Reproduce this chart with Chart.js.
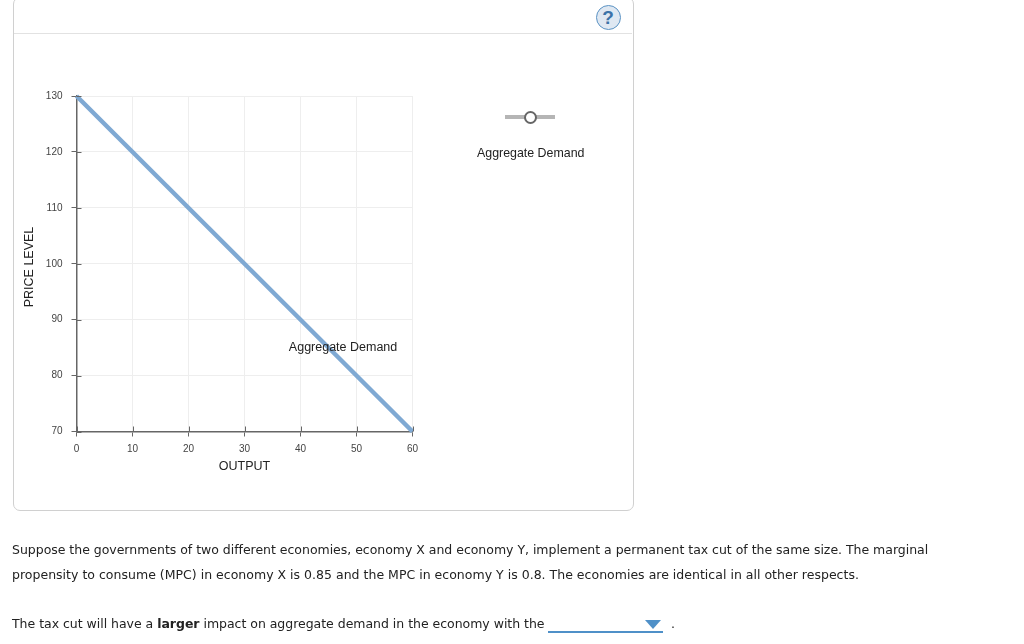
<!DOCTYPE html>
<html><head><meta charset="utf-8">
<script src="https://cdn.jsdelivr.net/npm/chart.js@4"></script>
<style>
html,body{margin:0;padding:0;background:#fff;width:1024px;height:644px;overflow:hidden}
#wrap{position:relative;width:1024px;height:644px}
canvas{position:absolute;left:0;top:0}
.abs{position:absolute;white-space:nowrap}
#panel{left:12.5px;top:-3px;width:619.5px;height:512px;border:1.5px solid #d0d0d0;border-radius:7px}
#hdr{left:14px;top:33px;width:618px;height:1px;background:#e2e2e2}
#help{left:595.5px;top:5px;width:23px;height:23px;border:1.5px solid #5b93c4;border-radius:50%;background:#dfe8f2;color:#3c73a8;font:bold 19px "Liberation Sans";text-align:center;line-height:23px}
.t{font:12.5px "DejaVu Sans";color:#222;left:12px}
#lgl{left:505px;top:114.5px;width:50px;height:4px;background:#b5b5b5}
#lgc{left:524px;top:110.5px;width:9px;height:9px;border:2px solid #666;border-radius:50%;background:#fff}
#lgt{left:477px;top:145.5px;font:12.4px "Liberation Sans";color:#222}
#dd{left:548px;top:631px;width:115px;height:2px;background:#4f90c8}
#ar{left:645px;top:620px;width:0;height:0;border-left:8px solid transparent;border-right:8px solid transparent;border-top:9px solid #4f90c8}
</style></head><body>
<div id="wrap">
<div class="abs" id="panel"></div>
<div class="abs" id="hdr"></div>
<div class="abs" id="help">?</div>
<canvas id="c" width="1024" height="644"></canvas>
<div class="abs" id="lgl"></div><div class="abs" id="lgc"></div>
<div class="abs" id="lgt">Aggregate Demand</div>
<div class="abs t" style="top:542px;letter-spacing:-0.022px">Suppose the governments of two different economies, economy X and economy Y, implement a permanent tax cut of the same size. The marginal</div>
<div class="abs t" style="top:567px;letter-spacing:0.015px">propensity to consume (MPC) in economy X is 0.85 and the MPC in economy Y is 0.8. The economies are identical in all other respects.</div>
<div class="abs t" style="top:616px;letter-spacing:-0.024px">The tax cut will have a <b>larger</b> impact on aggregate demand in the economy with the</div>
<div class="abs" id="dd"></div><div class="abs" id="ar"></div>
<div class="abs t" style="top:616px;left:671px">.</div>
</div>
<script>
const output = [0, 60];
const priceLevel = [130, 70];
const seriesName = 'Aggregate Demand';
const xTitle = 'OUTPUT';
const yTitle = 'PRICE LEVEL';
const labelAt = {x: 47.6, y: 85};

const innerTicks = {
  id: 'innerTicks',
  afterDatasetsDraw(chart) {
    const {ctx, scales: {x, y}} = chart;
    ctx.save();
    ctx.strokeStyle = '#666';
    ctx.lineWidth = 1;
    ctx.beginPath();
    x.ticks.forEach(t => { const p = Math.round(x.getPixelForValue(t.value)) + .5;
      ctx.moveTo(p, y.bottom - 5); ctx.lineTo(p, y.bottom); });
    y.ticks.forEach(t => { const p = Math.round(y.getPixelForValue(t.value)) + .5;
      ctx.moveTo(x.left, p); ctx.lineTo(x.left + 5, p); });
    ctx.stroke();
    ctx.fillStyle = '#222';
    ctx.font = '12.5px "Liberation Sans"';
    ctx.textAlign = 'center';
    ctx.textBaseline = 'middle';
    ctx.fillText(seriesName, x.getPixelForValue(labelAt.x), y.getPixelForValue(labelAt.y));
    ctx.translate(30, 267);
    ctx.rotate(-Math.PI / 2);
    ctx.fillText(yTitle, 0, 0);
    ctx.restore();
  }
};

new Chart(document.getElementById('c'), {
  type: 'scatter',
  data: { datasets: [{
    label: seriesName,
    data: output.map((v, i) => ({x: v, y: priceLevel[i]})),
    showLine: true, borderColor: '#7fa9d3', borderWidth: 4.5,
    pointRadius: 0, clip: false, borderCapStyle: 'butt'
  }]},
  options: {
    responsive: false, animation: false, devicePixelRatio: 1,
    layout: {padding: {left: 20, top: 96, right: 611.5, bottom: 170}},
    plugins: {legend: {display: false}, tooltip: {enabled: false}},
    scales: {
      x: { type: 'linear', min: 0, max: 60,
        afterFit(s) { s.height = 42.5; },
        border: {color: '#666', width: 1.5},
        grid: {color: '#eeeeee', tickColor: '#666', tickLength: 5, lineWidth: 1},
        ticks: {stepSize: 10, color: '#444', font: {family: 'Liberation Sans', size: 10}, maxRotation: 0, padding: 7},
        title: {display: true, text: xTitle, color: '#222', font: {family: 'Liberation Sans', size: 12.5}, padding: {top: 3, bottom: 0}}
      },
      y: { type: 'linear', min: 70, max: 130,
        afterFit(s) { s.width = 56.5; },
        border: {color: '#666', width: 1.5},
        grid: {color: '#eeeeee', tickColor: '#666', tickLength: 5, lineWidth: 1},
        ticks: {stepSize: 10, color: '#444', font: {family: 'Liberation Sans', size: 10}, padding: 9}
      }
    }
  },
  plugins: [innerTicks]
});
</script>
</body></html>
